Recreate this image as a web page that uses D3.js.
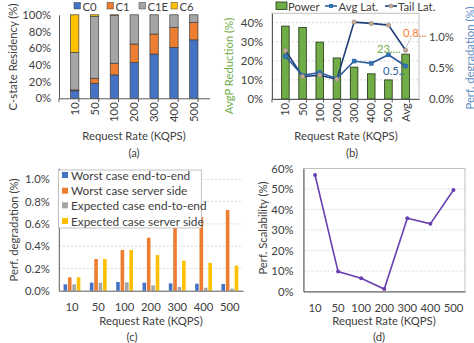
<!DOCTYPE html>
<html><head><meta charset="utf-8">
<script src="https://cdn.jsdelivr.net/npm/d3@7"></script>
<style>
body{margin:0;background:#fff;}
text{font-family:Lato,"Open Sans",sans-serif;fill:#404040;}
</style></head>
<body>
<svg id="c" width="474" height="343"></svg>
<script>
// ---------- DATA ----------
const ratesA = ["10","50","100","200","300","400","500"];
const statesA = ["C0","C1","C1E","C6"];
const c0 = [9, 18, 28, 43, 53, 61, 70];
const c1 = [1, 6, 14, 22, 24, 24, 21];
const c1e = [45, 74, 57.5, 35, 23, 15, 9];
const c6 = [45, 2, 0.5, 0, 0, 0, 0];
const yTicksA = [0,20,40,60,80,100];

const ratesB = ["10","50","100","200","300","400","500","Avg"];
const powerB = [38.2, 37.5, 29.8, 21.5, 16.7, 13.2, 10, 23.5];
const avgLatB = [0.69, 0.385, 0.428, 0.33, 0.615, 0.578, 0.717, 0.535];
const tailLatB = [0.786, 0.364, 0.385, 0.32, 1.246, 1.225, 1.198, 0.79];
const yTicksBL = [0,10,20,30,40];
const yTicksBR = [0,0.5,1.0];

const ratesC = ["10","50","100","200","300","400","500"];
const seriesC = ["Worst case end-to-end","Worst case server side","Expected case end-to-end","Expected case server side"];
const worstE2E = [0.057, 0.072, 0.078, 0.072, 0.066, 0.063, 0.06];
const worstSrv = [0.12, 0.284, 0.365, 0.476, 0.575, 0.66, 0.725];
const expE2E = [0.057, 0.072, 0.075, 0.048, 0.033, 0.027, 0.018];
const expSrv = [0.12, 0.284, 0.365, 0.32, 0.27, 0.25, 0.225];
const yTicksC = [0,0.2,0.4,0.6,0.8,1.0];

const ratesD = ["10","50","100","200","300","400","500"];
const scalD = [56.8, 9.7, 6.5, 1.2, 35.7, 33, 49.5];
const yTicksD = [0,10,20,30,40,50,60];

// ---------- STYLE ----------
const colA = {C0:"#4472c4",C1:"#ed7d31",C1E:"#a5a5a5",C6:"#ffc000"};
const colC = ["#4472c4","#ed7d31","#a5a5a5","#ffc000"];
const axisCol = "#595959", gridCol = "#d9d9d9", frameCol = "#bfbfbf";
const svg = d3.select("#c");
const fs = 11.3;

function label(x,y,t,opt={}){
  const e = svg.append("text").attr("x",x).attr("y",y).text(t)
    .attr("font-size",opt.size||fs).attr("text-anchor",opt.anchor||"middle")
    .attr("dominant-baseline","central");
  if(opt.rot) e.attr("transform",`rotate(${opt.rot},${x},${y})`);
  if(opt.fill) e.style("fill",opt.fill);
  return e;
}

// ================= PANEL A =================
{
  const x = d3.scaleBand().domain(ratesA).range([59,209.5]).padding(0.58);
  const y = d3.scaleLinear().domain([0,100]).range([98.3,14.8]);
  const rows = ratesA.map((r,i)=>({r,C0:c0[i],C1:c1[i],C1E:c1e[i],C6:c6[i]}));
  const stack = d3.stack().keys(statesA)(rows);
  const g = svg.append("g");
  stack.forEach(s=>{
    g.selectAll(null).data(s.filter(d=>d[1]-d[0]>0)).join("rect")
      .attr("x",d=>x(d.data.r)).attr("width",x.bandwidth())
      .attr("y",d=>y(d[1])).attr("height",d=>y(d[0])-y(d[1]))
      .attr("fill",colA[s.key]).attr("stroke","#404040").attr("stroke-width",0.7);
  });
  const ya = d3.axisLeft(y).tickValues(yTicksA).tickFormat(d=>d+"%").tickSize(0).tickPadding(8);
  const gy = svg.append("g").attr("transform","translate(59,0)").call(ya);
  gy.select(".domain").attr("stroke",axisCol);
  gy.selectAll("text").attr("font-size",fs).style("fill","#404040");
  const xa = d3.axisBottom(x).tickSize(0).tickPadding(4);
  const gx = svg.append("g").attr("transform","translate(0,98.3)").call(xa);
  gx.select(".domain").attr("stroke",axisCol);
  gx.selectAll("text").attr("font-size",fs).attr("text-anchor","end").attr("dy","0.35em")
    .attr("transform","rotate(-90)").attr("x",-4).attr("y",0);
  svg.append("g").selectAll("line").data(d3.range(ratesA.length+1)).join("line")
    .attr("x1",i=>59+i*x.step()).attr("x2",i=>59+i*x.step())
    .attr("y1",98.3).attr("y2",102).attr("stroke",axisCol);
  label(12,57,"C-state Residency (%)",{rot:-90});
  label(134,135,"Request Rate (KQPS)");
  label(134,152,"(a)");
  const lx = [74,107,139,171];
  statesA.forEach((k,i)=>{
    svg.append("rect").attr("x",lx[i]).attr("y",2.5).attr("width",6.5).attr("height",6.5)
      .attr("fill",colA[k]).attr("stroke","#404040").attr("stroke-width",0.5);
    label(lx[i]+8.5,6,k,{anchor:"start"});
  });
}

// ================= PANEL B =================
{
  const x = d3.scaleBand().domain(ratesB).range([272,419]).padding(0.56);
  const yl = d3.scaleLinear().domain([0,44.9]).range([99,13.3]);
  const yr = d3.scaleLinear().domain([0,1.389]).range([99,13.3]);
  svg.append("g").selectAll("line").data(yTicksBL.slice(1)).join("line")
    .attr("x1",272).attr("x2",419).attr("y1",d=>yl(d)).attr("y2",d=>yl(d))
    .attr("stroke",gridCol).attr("stroke-dasharray","2,2");
  svg.append("rect").attr("x",272).attr("y",13.3).attr("width",147).attr("height",85.7)
    .attr("fill","none").attr("stroke",frameCol);
  svg.append("g").selectAll("rect").data(ratesB).join("rect")
    .attr("x",d=>x(d)).attr("width",x.bandwidth())
    .attr("y",(d,i)=>yl(powerB[i])).attr("height",(d,i)=>yl(0)-yl(powerB[i]))
    .attr("fill","#70ad47").attr("stroke","#1e3214").attr("stroke-width",0.8);
  const cx = d=>x(d)+x.bandwidth()/2;
  const line = d3.line().x(d=>cx(d[0])).y(d=>yr(d[1]));
  svg.append("path").datum(ratesB.map((r,i)=>[r,tailLatB[i]])).attr("d",line)
    .attr("fill","none").attr("stroke","#1f3f7a").attr("stroke-width",1.6);
  svg.append("path").datum(ratesB.map((r,i)=>[r,avgLatB[i]])).attr("d",line)
    .attr("fill","none").attr("stroke","#2e5c9e").attr("stroke-width",1.6);
  svg.append("g").selectAll("rect").data(ratesB).join("rect")
    .attr("x",d=>cx(d)-2).attr("y",(d,i)=>yr(avgLatB[i])-2).attr("width",4).attr("height",4)
    .attr("fill","#2e75b6").attr("stroke","#2e5c9e").attr("stroke-width",0.5);
  svg.append("g").selectAll("circle").data(ratesB).join("circle")
    .attr("cx",cx).attr("cy",(d,i)=>yr(tailLatB[i])).attr("r",2.2)
    .attr("fill","#c9a88c").attr("stroke","#8c8c8c").attr("stroke-width",0.6);
  const ga = svg.append("g").attr("transform","translate(272,0)")
    .call(d3.axisLeft(yl).tickValues(yTicksBL).tickFormat(d=>d+"%").tickSize(0).tickPadding(9));
  ga.select(".domain").attr("stroke",axisCol);
  ga.selectAll("text").attr("font-size",fs).style("fill","#404040");
  const gr = svg.append("g").attr("transform","translate(419,0)")
    .call(d3.axisRight(yr).tickValues(yTicksBR).tickFormat(d=>d3.format(".1f")(d)+"%").tickSize(0).tickPadding(10));
  gr.select(".domain").remove();
  gr.selectAll("text").attr("font-size",fs).style("fill","#404040");
  const gx = svg.append("g").attr("transform","translate(0,99)").call(d3.axisBottom(x).tickSize(0));
  gx.select(".domain").attr("stroke",axisCol);
  gx.selectAll("text").attr("font-size",fs).attr("text-anchor","end").attr("dy","0.35em")
    .attr("transform","rotate(-90)").attr("x",-4).attr("y",0);
  svg.append("g").selectAll("line").data(d3.range(ratesB.length+1)).join("line")
    .attr("x1",i=>272+i*x.step()).attr("x2",i=>272+i*x.step())
    .attr("y1",99).attr("y2",102.5).attr("stroke",axisCol);
  label(228,66,"AvgP Reduction (%)",{rot:-90,fill:"#70ad47"});
  label(469,58,"Perf. degradation (%)",{rot:-90,fill:"#5b8cc4"});
  label(346,135,"Request Rate (KQPS)");
  label(352,152,"(b)");
  const last = ratesB[ratesB.length-1], li = ratesB.length-1;
  svg.append("line").attr("x1",411).attr("y1",38).attr("x2",cx(last)).attr("y2",yr(tailLatB[li])-2)
    .attr("stroke","#a6a6a6").attr("stroke-width",0.6);
  label(403,32,d3.format(".1f")(tailLatB[li])+"...",{fill:"#ed7d31",anchor:"start"});
  label(377,48,Math.floor(powerB[li])+"....",{fill:"#70ad47",anchor:"start"});
  label(383,70,d3.format(".1f")(avgLatB[li])+"..",{fill:"#2e5c9e",anchor:"start"});
  svg.append("rect").attr("x",276).attr("y",2).attr("width",11).attr("height",7.5)
    .attr("fill","#70ad47").attr("stroke","#1e3214").attr("stroke-width",0.8);
  label(288,6,"Power",{anchor:"start"});
  svg.append("line").attr("x1",325).attr("x2",337).attr("y1",6).attr("y2",6).attr("stroke","#2e5c9e").attr("stroke-width",1.6);
  svg.append("rect").attr("x",329).attr("y",4).attr("width",4).attr("height",4).attr("fill","#2e75b6");
  label(338.5,6,"Avg Lat.",{anchor:"start"});
  svg.append("line").attr("x1",385).attr("x2",397).attr("y1",6).attr("y2",6).attr("stroke","#1f3f7a").attr("stroke-width",1.6);
  svg.append("circle").attr("cx",391).attr("cy",6).attr("r",2).attr("fill","#c9a88c").attr("stroke","#8c8c8c").attr("stroke-width",0.6);
  label(398,6,"Tail Lat.",{anchor:"start"});
}

// ================= PANEL C =================
{
  const x0 = d3.scaleBand().domain(ratesC).range([58.8,243]).paddingInner(0.3).paddingOuter(0.15);
  const x1 = d3.scaleBand().domain(seriesC).range([0,x0.bandwidth()]).padding(0.18);
  const y = d3.scaleLinear().domain([0,1.1]).range([290.7,168.2]);
  const vals = [worstE2E, worstSrv, expE2E, expSrv];
  svg.append("g").selectAll("line").data(yTicksC.slice(1)).join("line")
    .attr("x1",58.8).attr("x2",243).attr("y1",d=>y(d)).attr("y2",d=>y(d))
    .attr("stroke",gridCol).attr("stroke-dasharray","2,2");
  ratesC.forEach((r,i)=>{
    seriesC.forEach((s,j)=>{
      svg.append("rect").attr("x",x0(r)+x1(s)).attr("width",x1.bandwidth())
        .attr("y",y(vals[j][i])).attr("height",y(0)-y(vals[j][i])).attr("fill",colC[j]);
    });
  });
  const ga = svg.append("g").attr("transform","translate(58.8,0)")
    .call(d3.axisLeft(y).tickValues(yTicksC).tickFormat(d=>d3.format(".1f")(d)+"%").tickSize(0).tickPadding(9));
  ga.select(".domain").attr("stroke",axisCol);
  ga.selectAll("text").attr("font-size",fs).style("fill","#404040");
  const gx = svg.append("g").attr("transform","translate(0,290.7)").call(d3.axisBottom(x0).tickSize(0).tickPadding(12));
  gx.select(".domain").attr("stroke",axisCol);
  gx.selectAll("text").attr("font-size",fs);
  label(13,230,"Perf. degradation (%)",{rot:-90});
  label(151,320.7,"Request Rate (KQPS)");
  label(132,336.5,"(c)");
  svg.append("rect").attr("x",58.3).attr("y",170).attr("width",143).attr("height",58)
    .attr("fill","#fff").attr("stroke","#a6a6a6").attr("stroke-width",0.7);
  const ly = [175,190.7,205.3,221];
  seriesC.forEach((s,j)=>{
    svg.append("rect").attr("x",62).attr("y",ly[j]-3).attr("width",6).attr("height",6).attr("fill",colC[j]);
    label(71,ly[j],s,{anchor:"start",size:11.8});
  });
}

// ================= PANEL D =================
{
  const x = d3.scaleBand().domain(ratesD).range([303.5,465]);
  const y = d3.scaleLinear().domain([0,60]).range([291.5,168.5]);
  svg.append("g").selectAll("line").data(yTicksD.slice(1,-1)).join("line")
    .attr("x1",303.5).attr("x2",465).attr("y1",d=>y(d)).attr("y2",d=>y(d))
    .attr("stroke",gridCol).attr("stroke-dasharray","2,2");
  svg.append("rect").attr("x",303.5).attr("y",168.5).attr("width",161.5).attr("height",123)
    .attr("fill","none").attr("stroke",frameCol);
  const cx = r=>x(r)+x.bandwidth()/2;
  svg.append("path").datum(ratesD.map((r,i)=>[r,scalD[i]]))
    .attr("d",d3.line().x(d=>cx(d[0])).y(d=>y(d[1])))
    .attr("fill","none").attr("stroke","#6a3fb0").attr("stroke-width",1.6);
  svg.append("g").selectAll("circle").data(ratesD).join("circle")
    .attr("cx",cx).attr("cy",(d,i)=>y(scalD[i])).attr("r",2).attr("fill","#6a3fb0");
  const ga = svg.append("g").attr("transform","translate(303.5,0)")
    .call(d3.axisLeft(y).tickValues(yTicksD).tickFormat(d=>d+"%").tickSize(0).tickPadding(10));
  ga.select(".domain").attr("stroke",axisCol);
  ga.selectAll("text").attr("font-size",fs).style("fill","#404040");
  const gx = svg.append("g").attr("transform","translate(0,291.5)").call(d3.axisBottom(x).tickSize(0).tickPadding(12));
  gx.select(".domain").attr("stroke",axisCol);
  gx.selectAll("text").attr("font-size",fs);
  label(262,228,"Perf. Scalability (%)",{rot:-90});
  label(384,320.7,"Request Rate (KQPS)");
  label(379,336.5,"(d)");
}
</script>
</body></html>
